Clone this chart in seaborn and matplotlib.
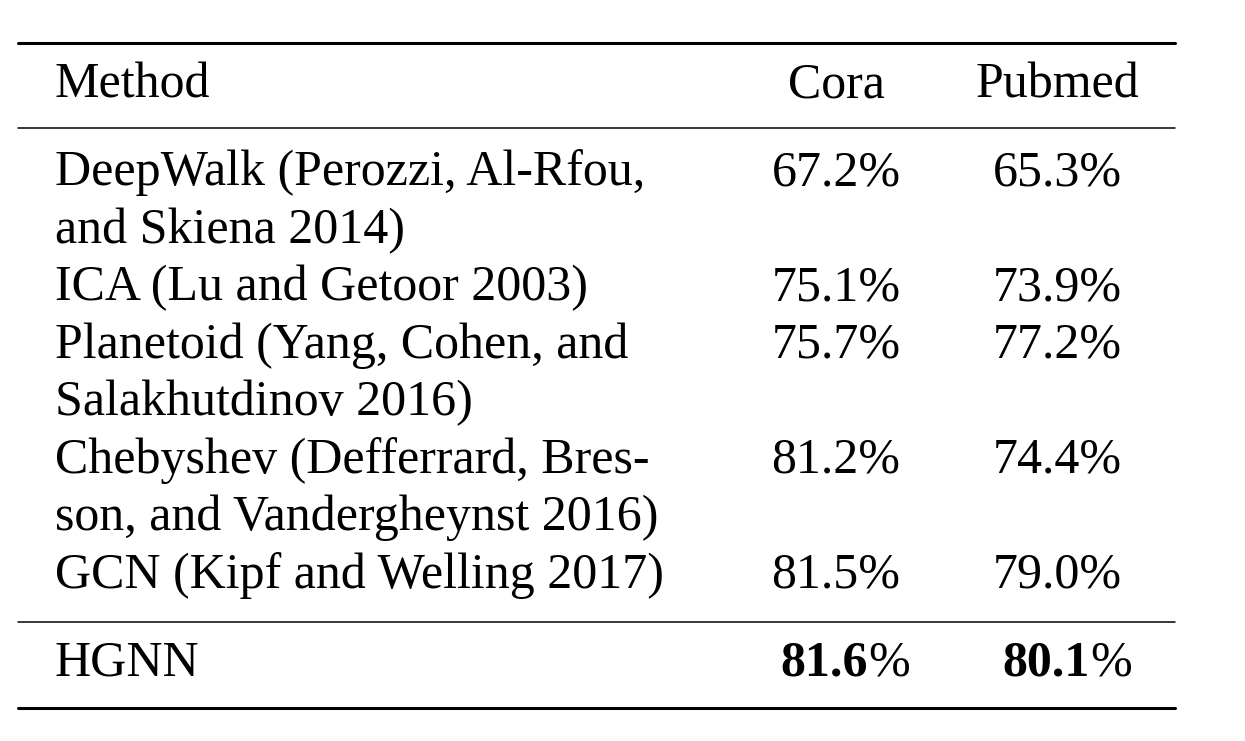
import matplotlib
matplotlib.use("Agg")
import matplotlib.pyplot as plt
import seaborn as sns

sns.set_theme(style="white")
plt.rcParams['font.family'] = ['Liberation Serif', 'DejaVu Serif']
plt.rcParams['text.color'] = 'black'

headers = ["Method", "Cora", "Pubmed"]
methods = [
    ["DeepWalk (Perozzi, Al-Rfou,", "and Skiena 2014)"],
    ["ICA (Lu and Getoor 2003)"],
    ["Planetoid (Yang, Cohen, and", "Salakhutdinov 2016)"],
    ["Chebyshev (Defferrard, Bres-", "son, and Vandergheynst 2016)"],
    ["GCN (Kipf and Welling 2017)"],
]
cora = ["67.2%", "75.1%", "75.7%", "81.2%", "81.5%"]
pubmed = ["65.3%", "73.9%", "77.2%", "74.4%", "79.0%"]
best_name = "HGNN"
best_cora = "81.6"
best_pubmed = "80.1"

fig = plt.figure(figsize=(12.45, 7.41), dpi=100)
ax = fig.add_axes([0, 0, 1, 1])
ax.set_xlim(0, 1245)
ax.set_ylim(741, 0)
ax.axis("off")

fs = 36
xm, xc, xp = 55, 836, 1057
kw = dict(fontsize=fs, va="center", color="black")
ax.text(xm, 85, headers[0], ha="left", **kw)
ax.text(xc, 85, headers[1], ha="center", **kw)
ax.text(xp, 85, headers[2], ha="center", **kw)

ax.plot([18, 1175], [43, 43], color="black", lw=2.2)
ax.plot([18, 1175], [128, 128], color="black", lw=1.1)
ax.plot([18, 1175], [622, 622], color="black", lw=1.1)
ax.plot([18, 1175], [708, 708], color="black", lw=2.2)

y = 173
step = 57.5
for m, c, p in zip(methods, cora, pubmed):
    ax.text(xc, y, c, ha="center", **kw)
    ax.text(xp, y, p, ha="center", **kw)
    for line in m:
        ax.text(xm, y, line, ha="left", **kw)
        y += step

yb = 663
ax.text(xm, yb, best_name, ha="left", **kw)
ax.text(868, yb, best_cora, ha="right", fontweight="bold", **kw)
ax.text(868, yb, "%", ha="left", **kw)
ax.text(1090, yb, best_pubmed, ha="right", fontweight="bold", **kw)
ax.text(1090, yb, "%", ha="left", **kw)

fig.savefig("out.png", dpi=100)
